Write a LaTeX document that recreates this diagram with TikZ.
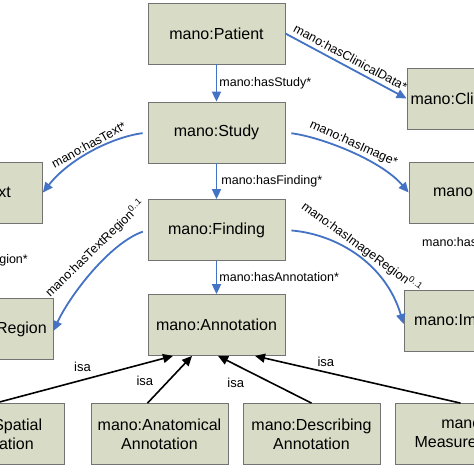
\documentclass[tikz,border=0pt]{standalone}
\usepackage{fontspec}
\setmainfont{Liberation Sans}
\usetikzlibrary{arrows.meta}
\definecolor{boxfill}{RGB}{216,219,198}
\definecolor{boxline}{RGB}{115,115,115}
\definecolor{relblue}{RGB}{68,114,196}
\begin{document}
\begin{tikzpicture}[x=1pt,y=-1pt,
 cls/.style={draw=boxline, line width=0.8pt, fill=boxfill, minimum width=137pt, minimum height=61pt, inner sep=0pt, align=center, font=\fontsize{16}{19}\selectfont},
 rel/.style={draw=relblue, line width=1.8pt, -{Triangle[length=10pt,width=9pt]}},
 isarrow/.style={draw=black, line width=1.6pt, -{Triangle[length=10pt,width=9pt]}},
 lbl/.style={font=\fontsize{12.5}{14}\selectfont, inner sep=2pt},
 isalbl/.style={font=\fontsize{13}{15}\selectfont, inner sep=0pt}]
\useasboundingbox (0,0) rectangle (474,474);
\clip (0,0) rectangle (474,474);
\fill[white] (0,0) rectangle (474,474);
% classes
\node[cls] (Patient) at (216.5,33.5) {mano:Patient};
\node[cls] (Study) at (216.5,132.5) {mano:Study};
\node[cls] (Finding) at (216.5,230) {mano:Finding};
\node[cls] (Annotation) at (216.5,325) {mano:Annotation};
\node[cls] (Text) at (-26,192.5) {mano:Text};
\node[cls] (Region) at (-15.5,329) {mano:TextRegion};
\node[cls] (Clinical) at (475.5,98.5) {mano:ClinicalData};
\node[cls] (Image) at (477.5,192.5) {mano:Image};
\node[cls, minimum width=160pt] (ImageRegion) at (484,321) {mano:ImageRegion};
\node[cls] (Spatial) at (-4.5,434) {mano:Spatial\\Annotation};
\node[cls] (Anatomical) at (159.5,434) {mano:Anatomical\\Annotation};
\node[cls] (Describing) at (311.5,434) {mano:Describing\\Annotation};
\node[cls] (Measurement) at (463.5,434) {mano:\\Measurement};
% partly visible labels
\node[lbl, anchor=west] (lblIR) at (420,243) {mano:hasImageRegion*};
\node[lbl, anchor=east] (lblTR) at (30,260) {mano:hasTextRegion*};
% straight relations
\draw[rel] (Patient) -- node[lbl, right] {mano:hasStudy*} (Study);
\draw[rel] (Study) -- node[lbl, right, xshift=2pt] {mano:hasFinding*} (Finding);
\draw[rel] (Finding) -- node[lbl, right] {mano:hasAnnotation*} (Annotation);
\draw[rel] (Patient.east) -- node[lbl, sloped, above=2pt] {mano:hasClinicalData*} (Clinical.west);
% curved relations
\draw[rel, shorten <=5pt] (Study.west) .. controls (113,137) and (70,158) .. node[lbl, sloped, above, pos=0.5] {mano:hasText*} (Text.east);
\draw[rel, shorten <=6pt] (Study.east) .. controls (321,137) and (381,160) .. node[lbl, sloped, above, pos=0.5] {mano:hasImage*} (Image.west);
\draw[rel, shorten <=5pt] (Finding.west) .. controls (110,243) and (70,295) .. node[lbl, sloped, above=5pt, pos=0.38] {mano:hasTextRegion\textsuperscript{0..1}} ([yshift=-2pt]Region.east);
\draw[rel, shorten <=6pt] (Finding.east) .. controls (335,234) and (385,262) .. node[lbl, sloped, above, pos=0.5] {mano:hasImageRegion\textsuperscript{0..1}} ([yshift=-3pt]ImageRegion.west);
% isa
\draw[isarrow] (Spatial.north) -- node[isalbl, pos=0.49, yshift=13.5pt] {isa} ([xshift=-43.5pt]Annotation.south);
\draw[isarrow] ([xshift=-12pt]Anatomical.north) -- node[isalbl, pos=0.48, xshift=-24pt] {isa} ([xshift=-24.5pt]Annotation.south);
\draw[isarrow] (Describing.north) -- node[isalbl, pos=0.81, yshift=-18pt] {isa} ([xshift=1.5pt]Annotation.south);
\draw[isarrow] ([xshift=-3pt]Measurement.north) -- node[isalbl, pos=0.655, yshift=10.6pt] {isa} ([xshift=38.5pt]Annotation.south);
\end{tikzpicture}
\end{document}
